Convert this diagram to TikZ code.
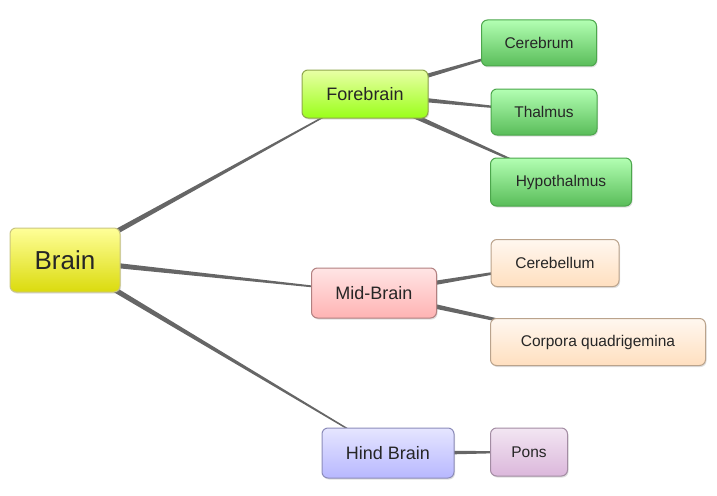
\documentclass[tikz,border=0pt]{standalone}
\usepackage{fontspec}
\setmainfont{Liberation Sans}
\usetikzlibrary{calc,backgrounds,shadows}
\newcommand{\taperconn}[2]{%
  \fill[conn] ($(#1)!3pt!90:(#2)$) -- ($(#1)!3pt!-90:(#2)$) -- ($(#2)!0.4pt!90:(#1)$) -- ($(#2)!0.4pt!-90:(#1)$) -- cycle;}
\begin{document}
\begin{tikzpicture}[x=1pt,y=1pt,
  conn/.style={fill=black!60},
  box/.style={rounded corners=6pt,draw=#1,line width=1pt,
    drop shadow={shadow xshift=1pt,shadow yshift=-1.5pt,opacity=0.25},
    inner sep=0pt,text=black!85},
  box/.default=gray,
  lv1/.style={font=\fontsize{26}{30}\selectfont},
  lv2/.style={font=\fontsize{18}{21}\selectfont},
  lv3/.style={font=\fontsize{15.5}{18}\selectfont}]
\useasboundingbox (0,0) rectangle (717,-495);
\node[box={yellow!60!black!60},top color=yellow!40!white,bottom color=yellow!85!black!95,minimum width=110,minimum height=64,lv1] (brain) at (65,-260) {Brain};
\node[box={lime!50!black!70},top color=lime!35!white,bottom color=lime!75!green!90,minimum width=126,minimum height=48,lv2] (fore) at (365,-94) {Forebrain};
\node[box={green!50!black!70},top color=green!30!white,bottom color=green!60!black!65,minimum width=115,minimum height=46,lv3] (cer) at (539,-43) {Cerebrum};
\node[box={green!50!black!70},top color=green!30!white,bottom color=green!60!black!65,minimum width=106,minimum height=46,lv3] (tha) at (544,-112) {Thalmus};
\node[box={green!50!black!70},top color=green!30!white,bottom color=green!60!black!65,minimum width=141,minimum height=48,lv3] (hyp) at (561,-182) {Hypothalmus};
\node[box={red!40!black!50},top color=red!10!white,bottom color=red!30!white,minimum width=125,minimum height=50,lv2] (mid) at (374,-293) {Mid-Brain};
\node[box={orange!40!black!45},top color=orange!6!white,bottom color=orange!25!white,minimum width=128,minimum height=47,lv3] (cbl) at (555,-263) {Cerebellum};
\node[box={orange!40!black!45},top color=orange!6!white,bottom color=orange!25!white,minimum width=215,minimum height=47,lv3] (cor) at (598,-342) {Corpora quadrigemina};
\node[box={blue!40!black!45},top color=blue!10!white,bottom color=blue!28!white,minimum width=132,minimum height=50,lv2] (hind) at (388,-453) {Hind Brain};
\node[box={violet!40!black!45},top color=violet!10!white,bottom color=violet!28!white,minimum width=77,minimum height=48,lv3] (pons) at (529,-452) {Pons};
\begin{pgfonlayer}{background}
\taperconn{brain}{fore}
\taperconn{brain}{mid}
\taperconn{brain}{hind}
\taperconn{fore}{cer}
\taperconn{fore}{tha}
\taperconn{fore}{hyp}
\taperconn{mid}{cbl}
\taperconn{mid}{cor}
\taperconn{hind}{pons}
\end{pgfonlayer}
\end{tikzpicture}
\end{document}
